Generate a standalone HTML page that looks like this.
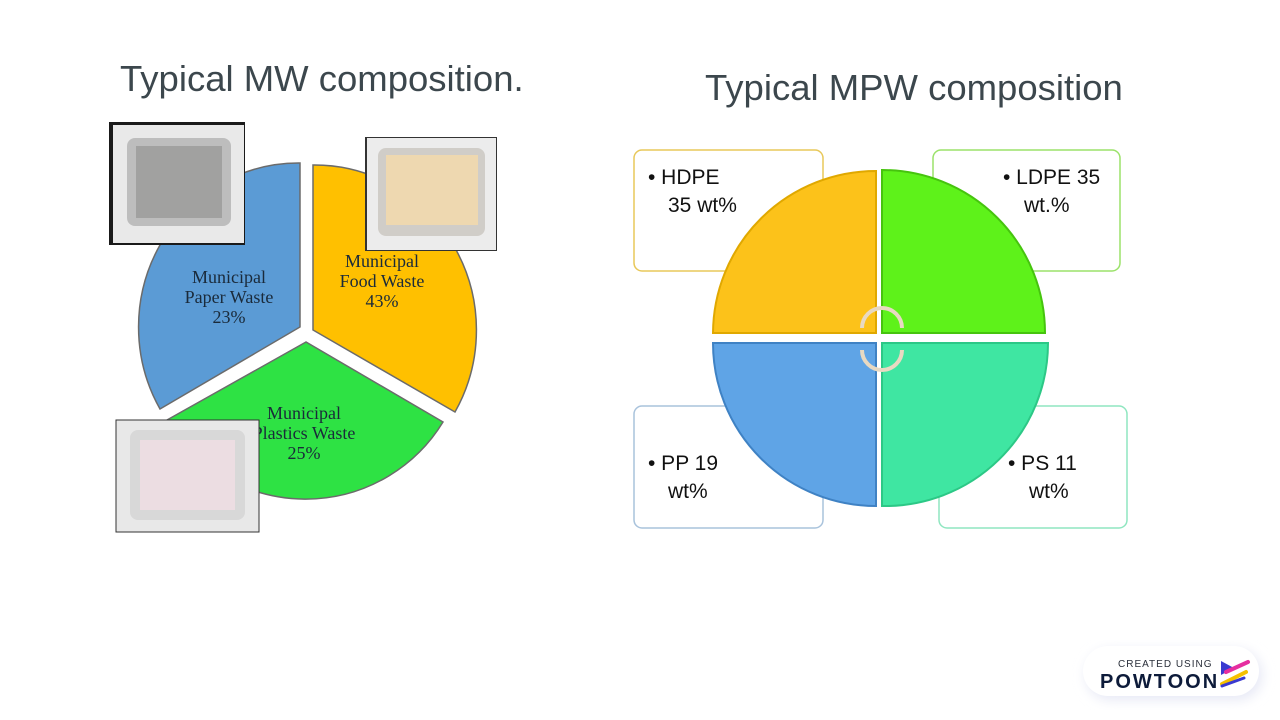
<!DOCTYPE html>
<html><head><meta charset="utf-8"><style>
html,body{margin:0;padding:0;background:#fff;}
svg{display:block}
</style></head><body>
<svg width="1280" height="720" viewBox="0 0 1280 720" xmlns="http://www.w3.org/2000/svg">
<defs>
<filter id="sh" x="-20%" y="-20%" width="140%" height="140%"><feGaussianBlur stdDeviation="6"/></filter>
</defs>
<rect width="1280" height="720" fill="#fff"/>
<text x="120" y="91" font-family="Liberation Sans, sans-serif" font-size="36.5" fill="#3c474d">Typical MW composition.</text>
<text x="705" y="100" font-family="Liberation Sans, sans-serif" font-size="36.5" fill="#3c474d">Typical MPW composition</text>

<!-- Left pie -->
<g stroke="#6b6b6b" stroke-width="1.5">
<path d="M300 327 L300 163 A160 164 0 0 0 160 409 Z" fill="#5b9bd5"/>
<path d="M313 330 L313 165 A162 165 0 0 1 455 412 Z" fill="#ffc000"/>
<path d="M306 342 L167 420 A161 161 0 0 0 443 422 Z" fill="#2ee244"/>
</g>
<g font-family="Liberation Serif, serif" font-size="18" fill="#1a2a3a" text-anchor="middle">
<text x="229" y="283">Municipal</text><text x="229" y="303">Paper Waste</text><text x="229" y="323">23%</text>
<text x="382" y="267">Municipal</text><text x="382" y="287">Food Waste</text><text x="382" y="307">43%</text>
<text x="304" y="419">Municipal</text><text x="304" y="439">Plastics Waste</text><text x="304" y="459">25%</text>
</g>
<!-- photos -->
<rect x="109" y="122" width="136" height="123" fill="#1a1a1a"/>
<rect x="113" y="125" width="131" height="118" fill="#e9e9e9"/>
<rect x="127" y="138" width="104" height="88" rx="8" fill="#bdbdbd"/>
<rect x="136" y="146" width="86" height="72" fill="#9a9a98" opacity="0.8"/>
<rect x="365" y="137" width="132" height="114" fill="#333"/>
<rect x="367" y="138" width="129" height="112" fill="#ececec"/>
<rect x="378" y="148" width="107" height="88" rx="8" fill="#d0cdc8"/>
<rect x="386" y="155" width="92" height="70" fill="#eed8b0"/>
<rect x="116" y="420" width="143" height="112" fill="#e8e8e8" stroke="#333" stroke-width="1"/>
<rect x="130" y="430" width="115" height="90" rx="8" fill="#d8d8d8"/>
<rect x="140" y="440" width="95" height="70" fill="#ecdde2"/>

<!-- Right boxes -->
<g fill="#fff" stroke-width="1.5">
<rect x="634" y="150" width="189" height="121" rx="8" stroke="#e8c85a"/>
<rect x="933" y="150" width="187" height="121" rx="8" stroke="#9be26a"/>
<rect x="634" y="406" width="189" height="122" rx="8" stroke="#a9c3dc"/>
<rect x="939" y="406" width="188" height="122" rx="8" stroke="#8fe6c0"/>
</g>
<g font-family="Liberation Sans, sans-serif" font-size="21" fill="#111">
<text x="648" y="184">• HDPE</text><text x="668" y="212">35 wt%</text>
<text x="1003" y="184">• LDPE 35</text><text x="1024" y="212">wt.%</text>
<text x="648" y="470">• PP 19</text><text x="668" y="498">wt%</text>
<text x="1008" y="470">• PS 11</text><text x="1029" y="498">wt%</text>
</g>
<!-- Right pie -->
<g stroke-width="2">
<path d="M876 333 L713 333 A163 163 0 0 1 876 171 Z" fill="#fcc21a" stroke="#e0a800"/>
<path d="M882 333 L882 170 A163 163 0 0 1 1045 333 Z" fill="#5ef21a" stroke="#46c40e"/>
<path d="M876 343 L713 343 A163 163 0 0 0 876 506 Z" fill="#5fa4e6" stroke="#3f82c4"/>
<path d="M882 343 L1048 343 A163 163 0 0 1 882 506 Z" fill="#3fe6a2" stroke="#2cc886"/>
</g>
<g fill="none" stroke="#e8d9c2" stroke-width="4">
<path d="M862 328 A20 20 0 0 1 902 328"/>
<path d="M862 350 A20 20 0 0 0 902 350"/>
</g>

<!-- Powtoon badge -->
<rect x="1086" y="650" width="176" height="50" rx="25" fill="#e6e8f5" filter="url(#sh)"/>
<rect x="1083" y="646" width="176" height="50" rx="25" fill="#fff"/>
<text x="1118" y="667" font-family="Liberation Sans, sans-serif" font-size="10" letter-spacing="1" fill="#2a2f3a">CREATED USING</text>
<text x="1100" y="688" font-family="Liberation Sans, sans-serif" font-size="20" font-weight="bold" letter-spacing="2" fill="#0d1b3a">POWTOON</text>
<path d="M1221 661 L1234 668 L1221 675 Z" fill="#3a3ad0"/>
<path d="M1226 672 L1248 662" stroke="#e62ea0" stroke-width="4" stroke-linecap="round"/>
<path d="M1222 684 L1246 672" stroke="#f5c000" stroke-width="4" stroke-linecap="round"/>
<path d="M1222 686 L1244 678" stroke="#3a3ad0" stroke-width="3" stroke-linecap="round"/>
</svg>
</body></html>
